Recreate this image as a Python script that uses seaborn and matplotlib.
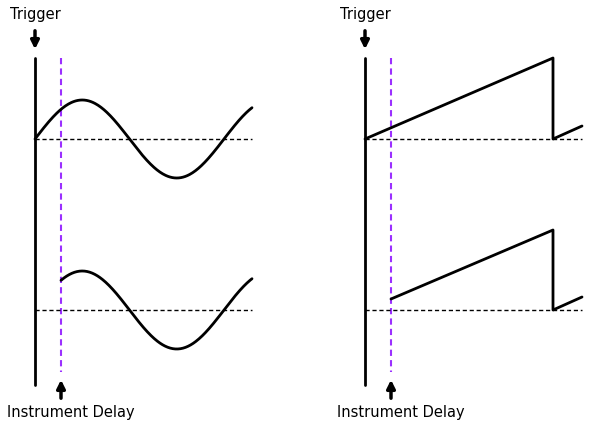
import numpy as np
import pandas as pd
import seaborn as sns
import matplotlib
matplotlib.use("Agg")
import matplotlib.pyplot as plt

# diagram geometry (pixel-like units)
trigger_x = [35, 365]
delay_x = [61, 391]
baselines = [139, 310]
sine_period = 189
sine_amp = 39
saw_top_x = [365, 553, 553, 582]
saw_top_y = [139, 58, 139, 126]
saw_bot_x = [391, 553, 553, 582]
saw_bot_y = [299, 230, 310, 297]
labels_top = ["Trigger", "Trigger"]
labels_bot = ["Instrument Delay", "Instrument Delay"]

sns.set_style("white")
plt.rcParams['font.family'] = ['Verdana', 'DejaVu Sans']
fig = plt.figure(figsize=(5.91, 4.32), dpi=100)
ax = fig.add_axes([0, 0, 1, 1])

for i in range(2):
    x0 = trigger_x[i]
    ax.plot([x0, x0], [58, 385], color='black', lw=2)
    ax.plot([delay_x[i]]*2, [58, 372], color='#9b30ff', lw=1.5, ls=(0, (3, 2)))
    for b in baselines:
        ax.plot([x0, x0 + 217], [b, b], color='black', lw=1, ls=(0, (3, 2)))
    ax.annotate("", xy=(x0, 52), xytext=(x0, 28),
                arrowprops=dict(arrowstyle='-|>', color='black', lw=2.5, mutation_scale=12))
    ax.annotate("", xy=(delay_x[i], 377), xytext=(delay_x[i], 401),
                arrowprops=dict(arrowstyle='-|>', color='black', lw=2.5, mutation_scale=12))
    ax.text(x0 - 25, 14, labels_top[i], fontsize=10.5, va='center', ha='left', color='black')
    ax.text(x0 - 28, 413, labels_bot[i], fontsize=10.5, va='center', ha='left', color='black')

xs = np.linspace(35, 252, 300)
top = pd.DataFrame({"x": xs, "y": 139 - sine_amp*np.sin(2*np.pi*(xs-35)/sine_period)})
sns.lineplot(data=top, x="x", y="y", color='black', lw=2, ax=ax, sort=False, estimator=None)
xb = np.linspace(61, 252, 300)
bot = pd.DataFrame({"x": xb, "y": 310 - sine_amp*np.sin(2*np.pi*(xb-35)/sine_period)})
sns.lineplot(data=bot, x="x", y="y", color='black', lw=2, ax=ax, sort=False, estimator=None)
sns.lineplot(x=saw_top_x, y=saw_top_y, color='black', lw=2, ax=ax, sort=False, estimator=None)
sns.lineplot(x=saw_bot_x, y=saw_bot_y, color='black', lw=2, ax=ax, sort=False, estimator=None)
ax.set_xlim(0, 591); ax.set_ylim(432, 0); ax.axis('off')
fig.savefig("out.png", dpi=100)
